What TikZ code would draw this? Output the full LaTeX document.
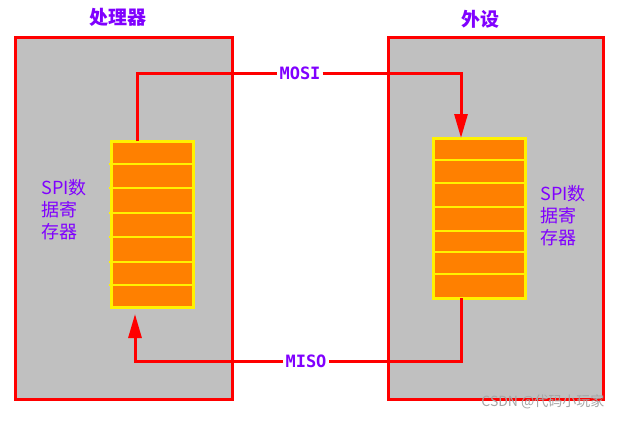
\documentclass[tikz,border=0pt]{standalone}
\usepackage{fontspec}
\newfontfamily\cjk{Noto Sans CJK SC}
\setmonofont{DejaVu Sans Mono}
\usetikzlibrary{arrows.meta, shadows}
\definecolor{violet}{RGB}{128,0,255}
\definecolor{panel}{RGB}{192,192,192}
\definecolor{regfill}{RGB}{255,128,0}
\begin{document}
\begin{tikzpicture}[x=1pt, y=-1pt, >={Triangle[length=24pt,width=13pt]}]
\tikzset{
  chip/.style={draw=red, line width=3pt, fill=panel, drop shadow={opacity=0.4}},
  reg/.style={draw=yellow, line width=3pt, fill=regfill, drop shadow={opacity=0.4}},
  slot/.style={yellow, line width=2pt},
  wire/.style={red, line width=3pt},
  title/.style={text=violet, font=\cjk\bfseries\fontsize{19}{21}\selectfont},
  tag/.style={text=violet, font=\ttfamily\bfseries\fontsize{17}{19}\selectfont, inner sep=2pt},
  regname/.style={text=violet, font=\cjk\fontsize{18}{22}\selectfont, align=left, inner sep=0pt}
}
\useasboundingbox (0,0) rectangle (620,420);
% two boxes
\draw[chip] (15,38) rectangle (232,399);
\draw[chip] (388,38) rectangle (603,399);
\node[title] (cpu) at (118,17) {处理器};
\node[title] (dev) at (480,19) {外设};
% registers
\draw[reg] (111,141) rectangle (193,307);
\foreach \y in {164,188,213,237,262,285}
  \draw[slot] (109,\y) -- (193,\y);
\draw[reg] (433,138) rectangle (525,298);
\foreach \y in {160,183,207,231,252,274}
  \draw[slot] (433,\y) -- (525,\y);
\coordinate (regL) at (137,141);
\coordinate (regLb) at (135,314);
\coordinate (regR) at (461,138);
\coordinate (regRb) at (461,298);
\node[regname] (nameL) at (64,210) {SPI数\\据寄\\存器};
\node[regname] (nameR) at (563,216) {SPI数\\据寄\\存器};
% lines
\node[tag] (mosi) at (300,73) {MOSI};
\node[tag] (miso) at (306,361) {MISO};
\draw[wire] (regL) |- (mosi.west);
\draw[wire, ->] (mosi.east) -| (regR);
\draw[wire] (regRb) |- (miso.east);
\draw[wire, ->] (miso.west) -| (regLb);
\node[text=gray!70, font=\cjk\fontsize{14}{16}\selectfont, anchor=east] (mark) at (608,402) {CSDN @代码小玩家};
\end{tikzpicture}
\end{document}
